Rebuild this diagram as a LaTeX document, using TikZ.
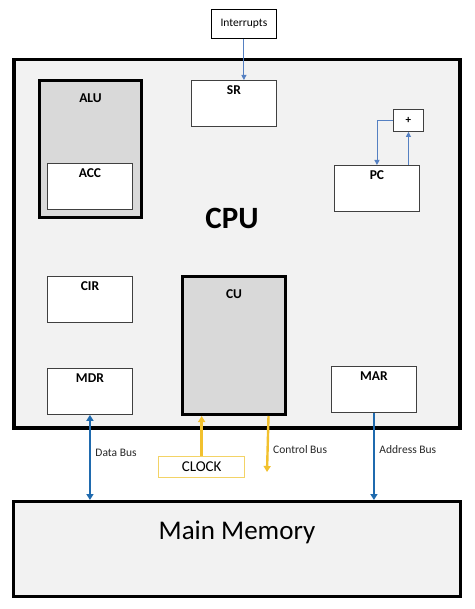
\documentclass[tikz,border=0pt]{standalone}
\usepackage{fontspec}
\setmainfont{Carlito}
\usetikzlibrary{arrows.meta,positioning}
\definecolor{cpugray}{HTML}{F2F2F2}
\definecolor{unitgray}{HTML}{D9D9D9}
\definecolor{busblue}{HTML}{1F6AAE}
\definecolor{linkblue}{HTML}{5580C2}
\definecolor{clockgold}{HTML}{F2C12E}
\definecolor{clockline}{HTML}{F3D366}
\tikzset{
	reg/.style={draw=black!75,fill=white,line width=0.9pt,minimum width=85pt,minimum height=46pt,anchor=north west,inner sep=0pt,
		label={[anchor=north,yshift=-2pt,font=\fontsize{13.5}{15}\selectfont\bfseries]north:#1}},
	unit/.style={draw,fill=unitgray,line width=3pt,anchor=north west,inner sep=0pt,
		label={[anchor=north,yshift=-11pt,font=\fontsize{13.5}{15}\selectfont\bfseries]north:#1}},
	bus/.style={busblue,line width=2.4pt,-{Triangle[width=7pt,length=6pt]}},
	link/.style={linkblue,line width=0.9pt,-{Triangle[width=5pt,length=5pt]}},
	clk/.style={clockgold,line width=2.4pt,-{Triangle[width=7pt,length=6pt]}},
	buslabel/.style={text=black!85,font=\fontsize{11.5}{13}\selectfont,right=1pt}
}
\begin{document}
\begin{tikzpicture}[x=1pt,y=-1pt]
	\useasboundingbox (0,0) rectangle (474,609);
	\node[draw,fill=white,line width=0.8pt,anchor=north west,minimum width=65pt,minimum height=29pt,inner sep=0pt,font=\fontsize{11.5}{13}\selectfont] (interrupts) at (211,9) {Interrupts};
	\node[draw,fill=cpugray,line width=3.5pt,anchor=north west,minimum width=446pt,minimum height=368pt] (cpu) at (12,58) {};
	\node[font=\fontsize{31}{35}\selectfont\bfseries] (cputext) at (232,218) {CPU};
	\node[unit=ALU,minimum width=102pt,minimum height=137pt] (alu) at (38,79) {};
	\node[unit=CU,minimum width=103pt,minimum height=138pt] (cu) at (181,275) {};
	\foreach \name/\txt/\x/\y in {acc/ACC/47/163,sr/SR/191/80,pc/PC/334/165,cir/CIR/47/276,mdr/MDR/47/368,mar/MAR/331/366}
		\node[reg=\txt] (\name) at (\x,\y) {};
	\node[draw=black!75,fill=white,line width=0.9pt,anchor=north west,minimum width=30pt,minimum height=22pt,inner sep=0pt,font=\fontsize{11}{12}\selectfont\bfseries] (inc) at (393,109) {+};
	\node[draw=clockline,fill=white,line width=1.3pt,anchor=north west,minimum width=86pt,minimum height=21pt,inner sep=0pt,font=\fontsize{15}{17}\selectfont] (clock) at (158,456) {CLOCK};
	\node[draw,fill=cpugray,line width=3pt,anchor=north west,minimum width=447pt,minimum height=95pt,inner sep=0pt,
		label={[anchor=north,yshift=-17pt,font=\fontsize{27}{31}\selectfont]north:Main Memory}] (memory) at (12,500) {};
	\coordinate (ctrlend) at (267,472);

	\draw[link] (interrupts.south) -- (interrupts.south |- sr.north);
	\draw[link] (inc.west) -| (pc.north);
	\draw[link] (inc.south |- pc.north) -- (inc.south);

	\draw[bus,{Triangle[width=7pt,length=6pt]}-{Triangle[width=7pt,length=6pt]}] (mdr.south) -- node[buslabel,pos=0.45] (databus) {Data Bus} (mdr.south |- memory.north);
	\draw[bus] (mar.south) -- node[buslabel,pos=0.42] (addressbus) {Address Bus} (mar.south |- memory.north);
	\draw[clk] (clock.north) -- (clock.north |- cu.south);
	\draw[clk] ([xshift=34.5pt]cu.south) -- node[buslabel,pos=0.6] (controlbus) {Control Bus} (ctrlend);
\end{tikzpicture}
\end{document}
